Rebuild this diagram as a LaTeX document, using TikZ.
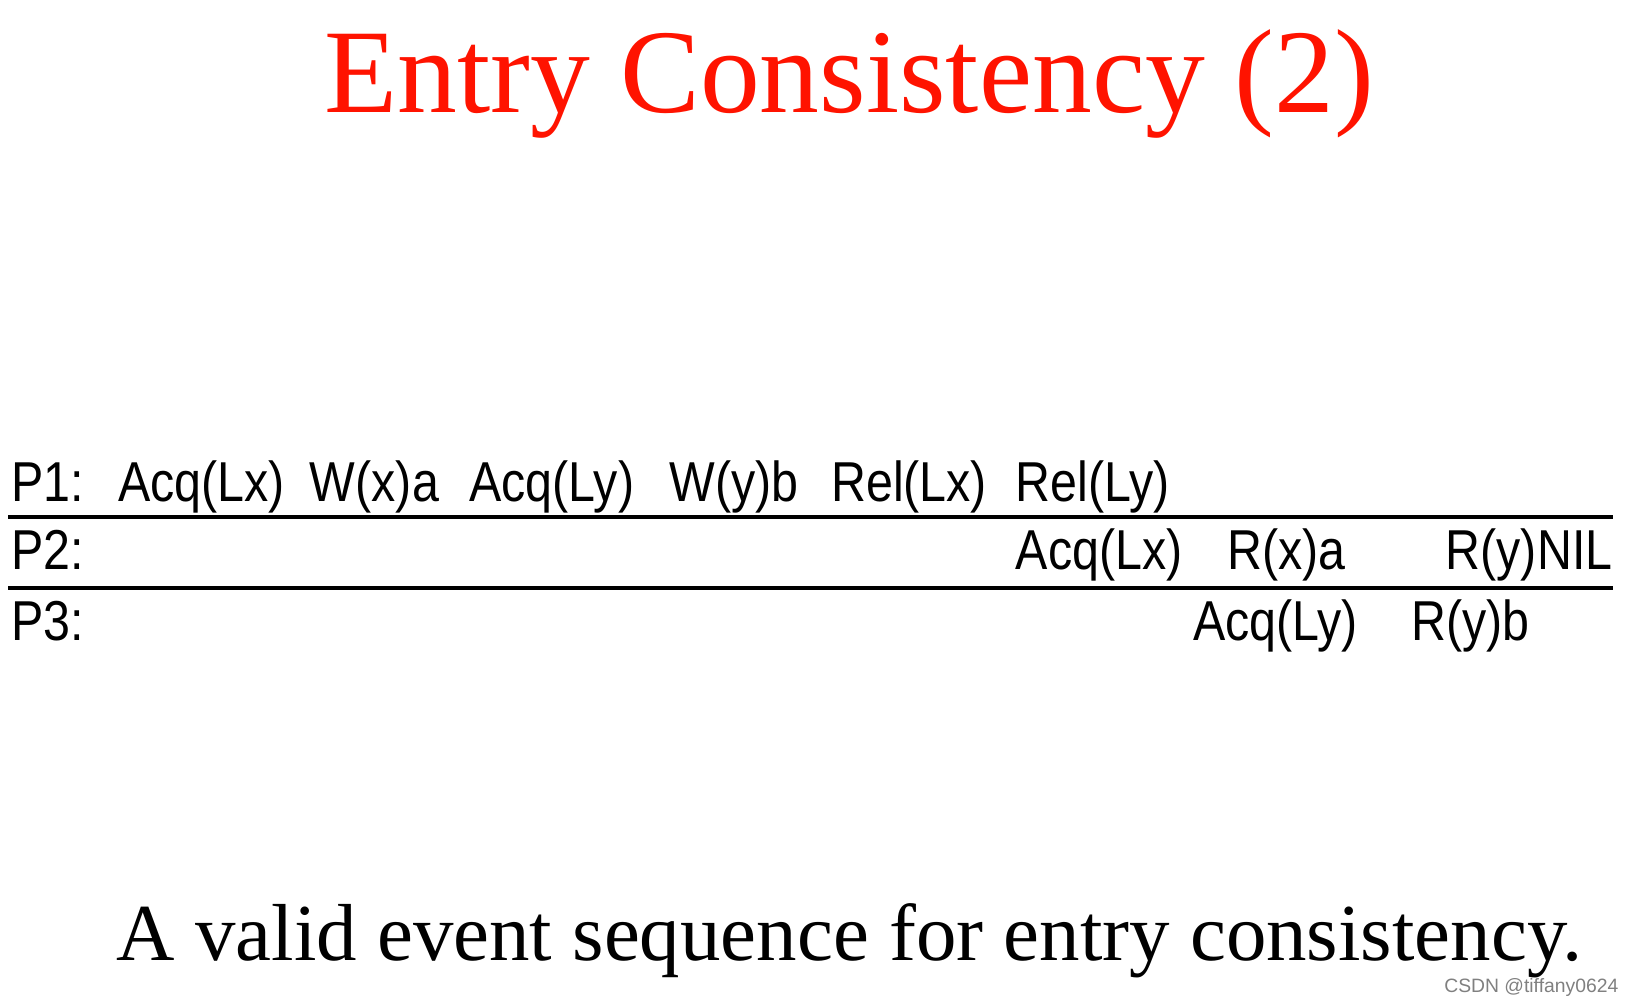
\documentclass[tikz,border=0pt]{standalone}
\usepackage{fontspec}
\setmainfont{Liberation Serif}
\setsansfont{Liberation Sans}
\begin{document}
\begin{tikzpicture}
		[
		x=0.01049cm, y=-0.01049cm,
		ev/.style={anchor=base west, inner sep=0pt, font=\sffamily\fontsize{16}{18}\selectfont, xscale=0.86, transform shape}
		%events in the rows
		]
		
		\useasboundingbox (0,0) rectangle (1560,955);
		
		%title and caption
		\node[red!85!orange, font=\fontsize{34}{40}\selectfont] (title) at (810,80) {Entry Consistency (2)};
		\node[font=\fontsize{23}{28}\selectfont] (caption) at (810,897) {A valid event sequence for entry consistency.};
		\node[gray, anchor=base east, font=\sffamily\fontsize{5.5}{7}\selectfont] (mark) at (1555,946) {CSDN @tiffany0624};
		
		%separators
		\coordinate (l1a) at (8,493); \coordinate (l1b) at (1538,493);
		\coordinate (l2a) at (8,561); \coordinate (l2b) at (1538,561);
		\draw[line width=1.2pt] (l1a) -- (l1b);
		\draw[line width=1.2pt] (l2a) -- (l2b);
		
		%P1
		\node[ev] (p1) at (10,478) {P1:};
		\foreach \n/\x/\t in {a/112/Acq(Lx), b/295/W(x)a, c/447/Acq(Ly), d/638/W(y)b, e/792/Rel(Lx), f/968/Rel(Ly)}
			\node[ev] (p1\n) at (\x,478) {\t};
		
		%P2
		\node[ev] (p2) at (10,543) {P2:};
		\foreach \n/\x/\t in {a/968/Acq(Lx), b/1170/R(x)a, c/1378/R(y)NIL}
			\node[ev] (p2\n) at (\x,543) {\t};
		
		%P3
		\node[ev] (p3) at (10,611) {P3:};
		\foreach \n/\x/\t in {a/1137/Acq(Ly), b/1345/R(y)b}
			\node[ev] (p3\n) at (\x,611) {\t};
	\end{tikzpicture}
\end{document}
